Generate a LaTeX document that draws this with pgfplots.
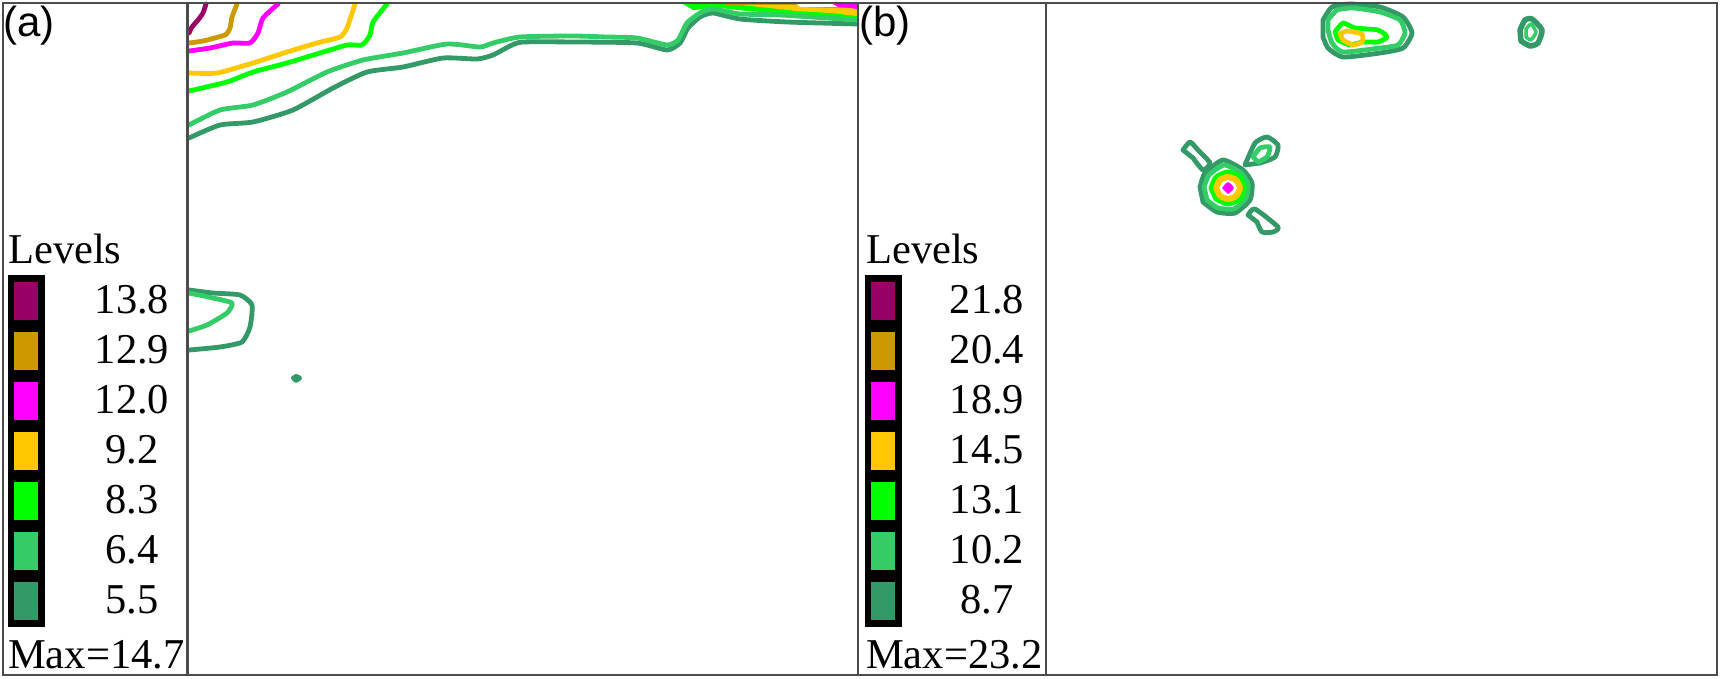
\documentclass[border=0pt]{standalone}
\usepackage{pgfplots}
\pgfplotsset{compat=1.18}
\usepackage{fontspec}
\setmainfont{Liberation Serif}
\newfontfamily\arial{Liberation Sans}
\definecolor{cP}{HTML}{990066}
\definecolor{cB}{HTML}{CC9900}
\definecolor{cM}{HTML}{FF00FF}
\definecolor{cO}{HTML}{FFC800}
\definecolor{cG}{HTML}{00FF00}
\definecolor{cL}{HTML}{33CC66}
\definecolor{cD}{HTML}{339966}
\newcommand{\lev}{\fontsize{42.5bp}{44bp}\selectfont}
\newcommand{\pan}{\arial\fontsize{42bp}{44bp}\selectfont}
\tikzset{
  ct/.style={line width=4.8bp, line join=round, line cap=round, smooth, tension=0.35},
  lg/.style={draw=none, fill=#1},
  tn/.style={anchor=base, inner sep=0pt, text=black}}
\begin{document}
\begin{tikzpicture}
\begin{axis}[scale only axis, x=1bp, y=1bp, xmin=0, xmax=1720, ymin=0, ymax=679, y dir=reverse,
  hide axis, clip=true, no markers]
\addplot[fill=white, draw=none] coordinates {(0,0)(1720,0)(1720,679)(0,679)} -- cycle;

% ---------- panel (a) contours
\addplot[ct, cP] coordinates {(189,33)(192,27)(198,20)(203,13)(206,4)};
\addplot[ct, cB] coordinates {(189,43)(203,41)(225,35)(230,28)(232,17)(237,4)};
\addplot[ct, cM] coordinates {(189,51)(210,48)(233,43)(250,43)(258,33)(263,18)(278,4)};
\addplot[ct, cO] coordinates {(189,73)(217,73)(253,63)(287,52)(317,43)(340,37)(347,28)(355,4)};
\addplot[ct, cG] coordinates {(189,91)(227,82)(253,72)(287,63)(320,53)(347,45)(362,45)(370,35)(373,22)(387,4)};
\addplot[draw=none, fill=cG] coordinates {(683,4)(693,10)(720,8)(747,11)(813,16)(857,19)(857,4)} -- cycle;
\addplot[draw=none, fill=cO] coordinates {(733,4)(797,4)(800,7)(832,8)(857,8)(857,16)(830,13)(797,11)} -- cycle;
\addplot[draw=none, fill=white] coordinates {(797,4)(833,4)(838,7)(800,7)} -- cycle;
\addplot[draw=none, fill=cM] coordinates {(833,4)(857,4)(857,9)(850,8)(838,7)} -- cycle;
\addplot[draw=none, fill=cB] coordinates {(725,3)(797,3)(797,5)(725,5)} -- cycle;
\addplot[ct, cD] coordinates {(189,138)(220,125)(253,122)(293,110)(333,88)(367,72)(403,67)(443,58)(477,59)(493,55)(510,46)(523,42)(577,42)(637,43)(667,50)(680,43)(688,28)(700,17)(713,13)(740,19)(787,22)(857,24)};
\addplot[ct, cL] coordinates {(189,125)(220,110)(253,105)(287,92)(327,72)(363,60)(403,53)(447,44)(480,47)(493,43)(520,37)(573,36)(607,37)(637,38)(667,45)(678,40)(687,23)(700,13)(713,9)(740,14)(780,15)(857,20)};
\addplot[ct, cD] coordinates {(189,290)(213,293)(240,295)(252,305)(250,327)(242,342)(220,347)(189,350)};
\addplot[ct, cL] coordinates {(189,293)(213,298)(232,303)(227,313)(207,325)(189,331)};
\addplot[ct, cD, line width=4bp] coordinates {(293,378)(296,376)(300,378)(296,381)} -- cycle;

% ---------- panel (b) contours
\addplot[ct, cD] coordinates {(1200,187)(1205,173)(1223,160)(1243,170)(1252,183)(1250,200)(1235,213)(1217,212)(1203,202)} -- cycle;
\addplot[ct, cL] coordinates {(1204,187)(1209,175)(1224,165)(1240,172)(1248,184)(1246,198)(1234,209)(1218,208)(1207,200)} -- cycle;
\addplot[ct, cG, line width=5bp] coordinates {(1211,188)(1216,177)(1228,172)(1240,177)(1244,188)(1240,199)(1228,204)(1216,199)} -- cycle;
\addplot[ct, cO, line width=6bp] coordinates {(1216,188)(1220,180)(1228,177)(1236,180)(1240,188)(1236,196)(1228,199)(1220,196)} -- cycle;
\addplot[fill=cM, draw=cM, smooth, line width=1.5bp] coordinates {(1223,188)(1228,183)(1233,188)(1228,193)} -- cycle;
\addplot[ct, cD] coordinates {(1183,150)(1190,142)(1198,150)(1210,163)(1203,170)(1193,158)} -- cycle;
\addplot[ct, cD] coordinates {(1245,165)(1255,143)(1267,137)(1278,145)(1275,157)(1260,163)} -- cycle;
\addplot[ct, cL] coordinates {(1253,157)(1260,148)(1270,147)(1267,157)(1258,162)} -- cycle;
\addplot[ct, cD] coordinates {(1248,215)(1255,209)(1278,227)(1273,232)(1262,232)(1257,222)} -- cycle;
\addplot[ct, cD] coordinates {(1323,20)(1332,7)(1350,4)(1380,7)(1403,17)(1412,33)(1403,48)(1380,53)(1343,57)(1328,48)(1323,37)} -- cycle;
\addplot[ct, cL] coordinates {(1328,20)(1337,10)(1353,8)(1380,12)(1400,20)(1405,33)(1398,45)(1380,48)(1343,52)(1332,43)(1328,30)} -- cycle;
\addplot[ct, cG] coordinates {(1335,32)(1343,23)(1355,28)(1378,30)(1387,37)(1378,42)(1363,42)(1350,45)(1338,40)} -- cycle;
\addplot[ct, cO] coordinates {(1340,34)(1347,31)(1362,34)(1362,42)(1353,45)(1343,40)} -- cycle;
\addplot[ct, cD, line width=5.5bp] coordinates {(1520,30)(1525,20)(1532,19)(1542,30)(1538,43)(1530,46)(1521,41)} -- cycle;
\addplot[ct, cL, line width=3.5bp] coordinates {(1526,29)(1531,24)(1536,32)(1531,40)(1526,37)} -- cycle;

% ---------- legend (a)
\addplot[fill=black, draw=none] coordinates {(8,275)(45,275)(45,627)(8,627)} -- cycle;
\addplot[lg=cP] coordinates {(14,282)(38,282)(38,320)(14,320)} -- cycle;
\addplot[lg=cB] coordinates {(14,332)(38,332)(38,370)(14,370)} -- cycle;
\addplot[lg=cM] coordinates {(14,382)(38,382)(38,420)(14,420)} -- cycle;
\addplot[lg=cO] coordinates {(14,432)(38,432)(38,470)(14,470)} -- cycle;
\addplot[lg=cG] coordinates {(14,482)(38,482)(38,520)(14,520)} -- cycle;
\addplot[lg=cL] coordinates {(14,532)(38,532)(38,570)(14,570)} -- cycle;
\addplot[lg=cD] coordinates {(14,582)(38,582)(38,620)(14,620)} -- cycle;
% ---------- legend (b)
\addplot[fill=black, draw=none] coordinates {(865,275)(902,275)(902,627)(865,627)} -- cycle;
\addplot[lg=cP] coordinates {(871,282)(895,282)(895,320)(871,320)} -- cycle;
\addplot[lg=cB] coordinates {(871,332)(895,332)(895,370)(871,370)} -- cycle;
\addplot[lg=cM] coordinates {(871,382)(895,382)(895,420)(871,420)} -- cycle;
\addplot[lg=cO] coordinates {(871,432)(895,432)(895,470)(871,470)} -- cycle;
\addplot[lg=cG] coordinates {(871,482)(895,482)(895,520)(871,520)} -- cycle;
\addplot[lg=cL] coordinates {(871,532)(895,532)(895,570)(871,570)} -- cycle;
\addplot[lg=cD] coordinates {(871,582)(895,582)(895,620)(871,620)} -- cycle;

% ---------- frames
\addplot[draw=black!70, line width=2.4bp] coordinates {(3,3)(1717,3)(1717,675)(3,675)} -- cycle;
\addplot[draw=black!70, line width=2.4bp] coordinates {(187.5,3)(187.5,675)};
\addplot[draw=black!70, line width=2.4bp] coordinates {(858,3)(858,675)};
\addplot[draw=black!70, line width=2.4bp] coordinates {(1046,3)(1046,675)};

% ---------- text
\node[tn, anchor=base west] at (axis cs:3,37) {\pan (a)};
\node[tn, anchor=base west] at (axis cs:859,37) {\pan (b)};
\node[tn, anchor=base west] at (axis cs:8,263) {\lev Levels};
\node[tn, anchor=base west] at (axis cs:866,263) {\lev Levels};
\node[tn, anchor=base west] at (axis cs:8,668) {\lev Max=14.7};
\node[tn, anchor=base west] at (axis cs:866,668) {\lev Max=23.2};
\node[tn] at (axis cs:132,313) {\lev 13.8};
\node[tn] at (axis cs:132,363) {\lev 12.9};
\node[tn] at (axis cs:132,413) {\lev 12.0};
\node[tn] at (axis cs:132,463) {\lev 9.2};
\node[tn] at (axis cs:132,513) {\lev 8.3};
\node[tn] at (axis cs:132,563) {\lev 6.4};
\node[tn] at (axis cs:132,613) {\lev 5.5};
\node[tn] at (axis cs:987,313) {\lev 21.8};
\node[tn] at (axis cs:987,363) {\lev 20.4};
\node[tn] at (axis cs:987,413) {\lev 18.9};
\node[tn] at (axis cs:987,463) {\lev 14.5};
\node[tn] at (axis cs:987,513) {\lev 13.1};
\node[tn] at (axis cs:987,563) {\lev 10.2};
\node[tn] at (axis cs:987,613) {\lev 8.7};
\end{axis}
\end{tikzpicture}
\end{document}
